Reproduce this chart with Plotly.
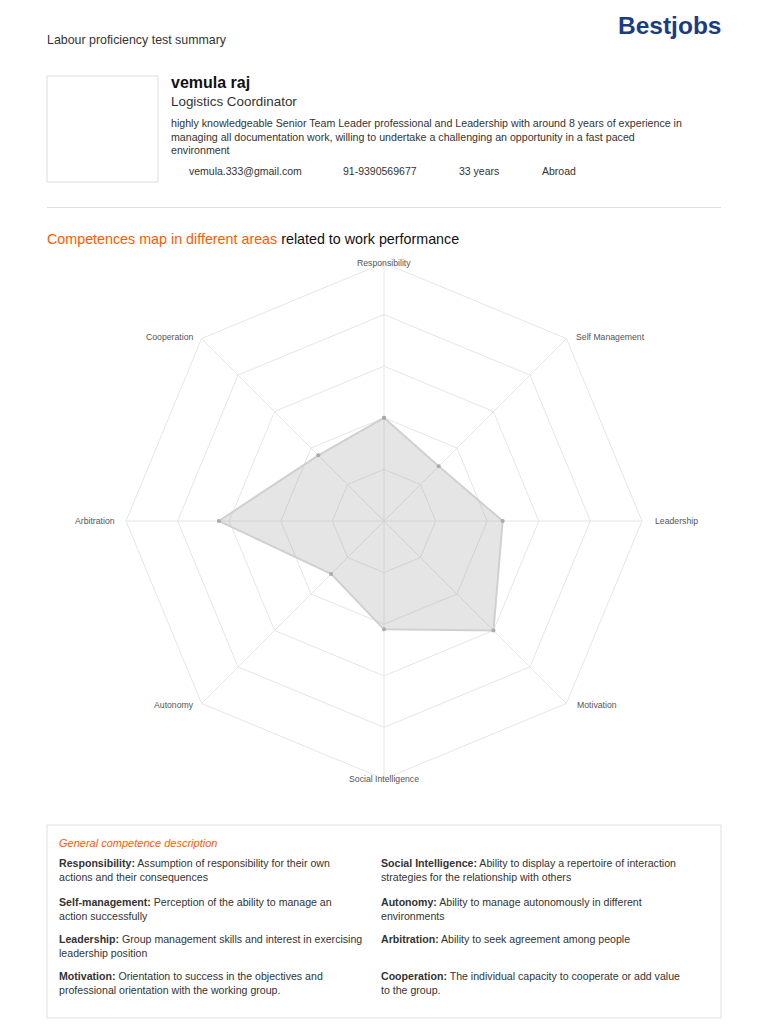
import plotly.graph_objects as go

W, H = 768, 1024
OFF = 8  # page body margin offset

# ---- data ----
competences = ["Responsibility", "Self Management", "Leadership", "Motivation",
               "Social Intelligence", "Autonomy", "Arbitration", "Cooperation"]
scores = [2.0, 1.5, 2.3, 3.0, 2.1, 1.45, 3.2, 1.8]
radial_max = 5

name = "vemula raj"
job_title = "Logistics Coordinator"
summary_lines = [
    "highly knowledgeable Senior Team Leader professional and Leadership with around 8 years of experience in",
    "managing all documentation work, willing to undertake a challenging an opportunity in a fast paced",
    "environment",
]
contact_items = ["vemula.333@gmail.com", "91-9390569677", "33 years", "Abroad"]
contact_x = [189, 343, 459, 542]

desc_left = [
    ["<b>Responsibility:</b> Assumption of responsibility for their own", "actions and their consequences"],
    ["<b>Self-management:</b> Perception of the ability to manage an", "action successfully"],
    ["<b>Leadership:</b> Group management skills and interest in exercising", "leadership position"],
    ["<b>Motivation:</b> Orientation to success in the objectives and", "professional orientation with the working group."],
]
desc_right = [
    ["<b>Social Intelligence:</b> Ability to display a repertoire of interaction", "strategies for the relationship with others"],
    ["<b>Autonomy:</b> Ability to manage autonomously in different", "environments"],
    ["<b>Arbitration:</b> Ability to seek agreement among people"],
    ["<b>Cooperation:</b> The individual capacity to cooperate or add value", "to the group."],
]
desc_row_y = [863, 902, 939, 976]

FONT = "Liberation Sans, Arial, Helvetica, sans-serif"
ORANGE = "#ff5a00"


def px(x):
    return (x - OFF) / W


def py(y):
    return 1 - (y - OFF) / H


annotations = []


def text(x, y, s, size, color="#333333", anchor="left", family=FONT):
    annotations.append(dict(x=px(x), y=py(y), xref="paper", yref="paper", text=s,
                            showarrow=False, xanchor=anchor, yanchor="middle",
                            font=dict(size=size, color=color, family=family),
                            borderpad=0))


text(46, 40, "Labour proficiency test summary", 12.4, "#333333")
text(722, 25, "<b>Bestjobs</b>", 24.5, "#1b3c80", anchor="right",
     family="Liberation Sans Narrow, Arial Narrow, Liberation Sans, Arial")
text(170, 82, "<b>" + name + "</b>", 16, "#111111")
text(170, 101, job_title, 13.4, "#333333")
for i, ln in enumerate(summary_lines):
    text(170, 123 + i * 13.5, ln, 10.65, "#333333")
for x, s in zip(contact_x, contact_items):
    text(x - 1, 171, s, 10.5, "#333333")

text(46, 239, "<span style='color:%s'>Competences map in different areas</span> related to work performance" % ORANGE,
     14.3, "#111111")

text(58, 843, "<i>General competence description</i>", 11, ORANGE)
for col_x, items in ((58, desc_left), (380, desc_right)):
    for yy, lines in zip(desc_row_y, items):
        for j, ln in enumerate(lines):
            text(col_x, yy + j * 14, ln, 10.6, "#333333")

# radar axis labels (placed around the chart)
label_pos = [(384, 263, "center"), (575, 337, "left"), (654, 521, "left"), (576, 705, "left"),
             (384, 779, "center"), (195, 705, "right"), (116, 521, "right"), (195, 337, "right")]
for (lx, ly, anc), lab in zip(label_pos, competences):
    text(lx, ly, lab, 8.7, "#555555", anchor=anc)

shapes = [
    dict(type="rect", xref="paper", yref="paper", x0=px(47), x1=px(158), y0=py(76), y1=py(182),
         line=dict(color="#dddddd", width=1), fillcolor="white", layer="below"),
    dict(type="line", xref="paper", yref="paper", x0=px(47), x1=px(721), y0=py(207.5), y1=py(207.5),
         line=dict(color="#dddddd", width=1)),
    dict(type="rect", xref="paper", yref="paper", x0=px(47), x1=px(721), y0=py(825), y1=py(1018),
         line=dict(color="#e0e0e0", width=1), fillcolor="rgba(0,0,0,0)", layer="below"),
]

fig = go.Figure()
fig.add_trace(go.Scatterpolar(
    r=scores + [scores[0]],
    theta=competences + [competences[0]],
    mode="lines+markers",
    fill="toself",
    fillcolor="rgba(150,150,150,0.25)",
    line=dict(color="rgba(208,208,208,1)", width=2),
    marker=dict(size=4, color="#aaaaaa"),
    hoverinfo="skip",
    showlegend=False,
))

cx, cy, R = 384, 521, 258
fig.update_layout(
    width=W, height=H,
    margin=dict(l=0, r=0, t=0, b=0),
    paper_bgcolor="white",
    plot_bgcolor="white",
    font=dict(family=FONT),
    polar=dict(
        domain=dict(x=[px(cx - R), px(cx + R)], y=[py(cy + R), py(cy - R)]),
        bgcolor="white",
        gridshape="linear",
        radialaxis=dict(range=[0, radial_max], dtick=1, showticklabels=False, ticks="",
                        showline=False, gridcolor="#e6e6e6", gridwidth=1),
        angularaxis=dict(rotation=90, direction="clockwise", ticks="", showline=True,
                         showticklabels=False,
                         linecolor="#e6e6e6", gridcolor="#e6e6e6"),
    ),
    annotations=annotations,
    shapes=shapes,
)

fig.write_html("out.html")
